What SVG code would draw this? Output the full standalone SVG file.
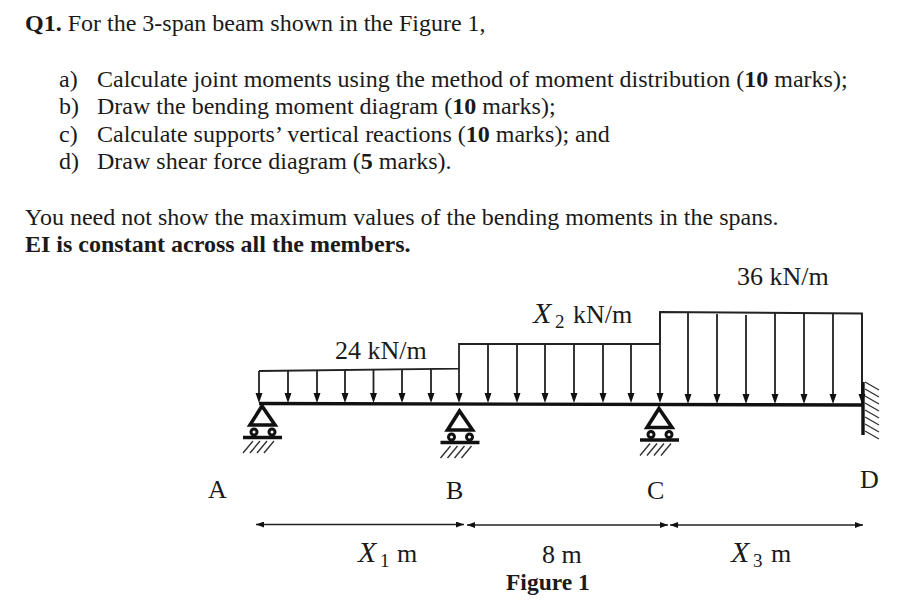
<svg xmlns="http://www.w3.org/2000/svg" width="916" height="608" viewBox="0 0 916 608">
<style>
text{font-family:"Liberation Serif","Times New Roman",serif;fill:#1a1a1a;font-size:24px}
.b{font-weight:bold}
.l{font-size:26px}
.i{font-style:italic;font-size:30px}
.u{font-size:19px}
.s{fill:none;stroke:#222;stroke-width:1.8}
.d{fill:none;stroke:#222;stroke-width:1.3;marker-end:url(#t);marker-start:url(#ts)}
.beam{fill:none;stroke:#111;stroke-width:3.4}
.tri{fill:#fff;stroke:#111;stroke-width:3.6}
.base{stroke:#111;stroke-width:3.4}
.r{fill:#fff;stroke:#111;stroke-width:3}
.h{stroke:#333;stroke-width:1.4}
</style>
<defs>
<marker id="t" markerUnits="userSpaceOnUse" markerWidth="8" markerHeight="6" refX="8" refY="3" orient="auto"><path d="M0 0L8 3L0 6Z" fill="#111"/></marker>
<marker id="ts" markerUnits="userSpaceOnUse" markerWidth="8" markerHeight="6" refX="0" refY="3" orient="auto"><path d="M8 0L0 3L8 6Z" fill="#111"/></marker>
<path id="ah" d="M-3.500 -10L3.500 -10L0 0Z" fill="#111"/>
<g id="sup">
<path class="tri" d="M0 0L-12 19L13 19Z"/>
<circle class="r" cx="-8" cy="26" r="3"/><circle class="r" cx="10" cy="26" r="3"/>
<path class="base" d="M-19 31.500H20"/>
<path class="h" d="M-9 35L-19 47M-2 35L-12 47M5 35L-5 47M12 35L2 47"/>
</g>
</defs>
<g id="question">
<text x="25" y="31"><tspan class="b">Q1.</tspan> For the 3-span beam shown in the Figure 1,</text>
<text x="59" y="87">a)</text><text x="97" y="87">Calculate joint moments using the method of moment distribution (<tspan class="b">10</tspan> marks);</text>
<text x="59" y="114">b)</text><text x="97" y="114">Draw the bending moment diagram (<tspan class="b">10</tspan> marks);</text>
<text x="59" y="142">c)</text><text x="97" y="142">Calculate supports’ vertical reactions (<tspan class="b">10</tspan> marks); and</text>
<text x="59" y="169">d)</text><text x="97" y="169">Draw shear force diagram (<tspan class="b">5</tspan> marks).</text>
<text x="25" y="225">You need not show the maximum values of the bending moments in the spans.</text>
<text x="25" y="252" class="b">EI is constant across all the members.</text>
</g>
<g id="connectors">
<path class="s" d="M259 371L459 368.700V344H660V312L862 313.500V405"/>
<path class="s" d="M259 371V395M288 370.500V395M317 370.300V395M345 370V395M373.500 369.700V395M402 369.500V395M431 369V395M459 369V395M488 344V395M517 344V395M545 345V395M574 344V395M603 344V395M631 344V395M660 312V397M688 312V397M717 314V397M746 315V397M775 313V397M804 313V397M833 313V397M862 313V397"/>
<g><use href="#ah" x="259" y="403"/><use href="#ah" x="288" y="403"/><use href="#ah" x="317" y="403"/><use href="#ah" x="345" y="403"/><use href="#ah" x="373.500" y="403"/><use href="#ah" x="402" y="403"/><use href="#ah" x="431" y="403"/><use href="#ah" x="459" y="403"/><use href="#ah" x="488" y="403"/><use href="#ah" x="517" y="403"/><use href="#ah" x="545" y="403"/><use href="#ah" x="574" y="403"/><use href="#ah" x="603" y="403"/><use href="#ah" x="631" y="403"/><use href="#ah" x="660" y="403"/><use href="#ah" x="688" y="404"/><use href="#ah" x="717" y="404"/><use href="#ah" x="746" y="404"/><use href="#ah" x="775" y="404"/><use href="#ah" x="804" y="404"/><use href="#ah" x="833" y="404"/><use href="#ah" x="862" y="404"/></g>
<path class="beam" d="M259 403.500L863 405"/>
<path class="beam" d="M863 382V435"/>
<path class="h" d="M865 382L879 390M865 389L879 397M865 396L879 404M865 403L879 411M865 410L879 418M865 417L879 425M865 424L879 432M865 431L879 439"/>
<path class="d" d="M256 524.500H464"/>
<path class="d" d="M467 525H668"/>
<path class="d" d="M670 525H863"/>
</g>
<g id="A"><use href="#sup" x="262" y="406"/><text x="208" y="498" class="l">A</text></g>
<g id="B"><use href="#sup" x="459.500" y="411"/><text x="446" y="499" class="l">B</text></g>
<g id="C"><use href="#sup" x="659" y="408.500"/><text x="647" y="499" class="l">C</text></g>
<g id="D"><text x="860" y="488" class="l">D</text></g>
<g id="labels">
<text x="335" y="359" class="l">24 kN/m</text>
<text y="323" class="l"><tspan x="533" class="i">X</tspan><tspan x="555" dy="5" class="u">2</tspan><tspan x="573" dy="-5">kN/m</tspan></text>
<text x="737" y="285" class="l">36 kN/m</text>
<text y="562" class="l"><tspan x="358" class="i">X</tspan><tspan x="380" dy="5" class="u">1</tspan><tspan x="397" dy="-5">m</tspan></text>
<text x="542" y="563" class="l">8 m</text>
<text y="562" class="l"><tspan x="731" class="i">X</tspan><tspan x="753" dy="5" class="u">3</tspan><tspan x="771" dy="-5">m</tspan></text>
<text x="506" y="590" class="b" style="font-size:23.500px">Figure 1</text>
</g>
</svg>
